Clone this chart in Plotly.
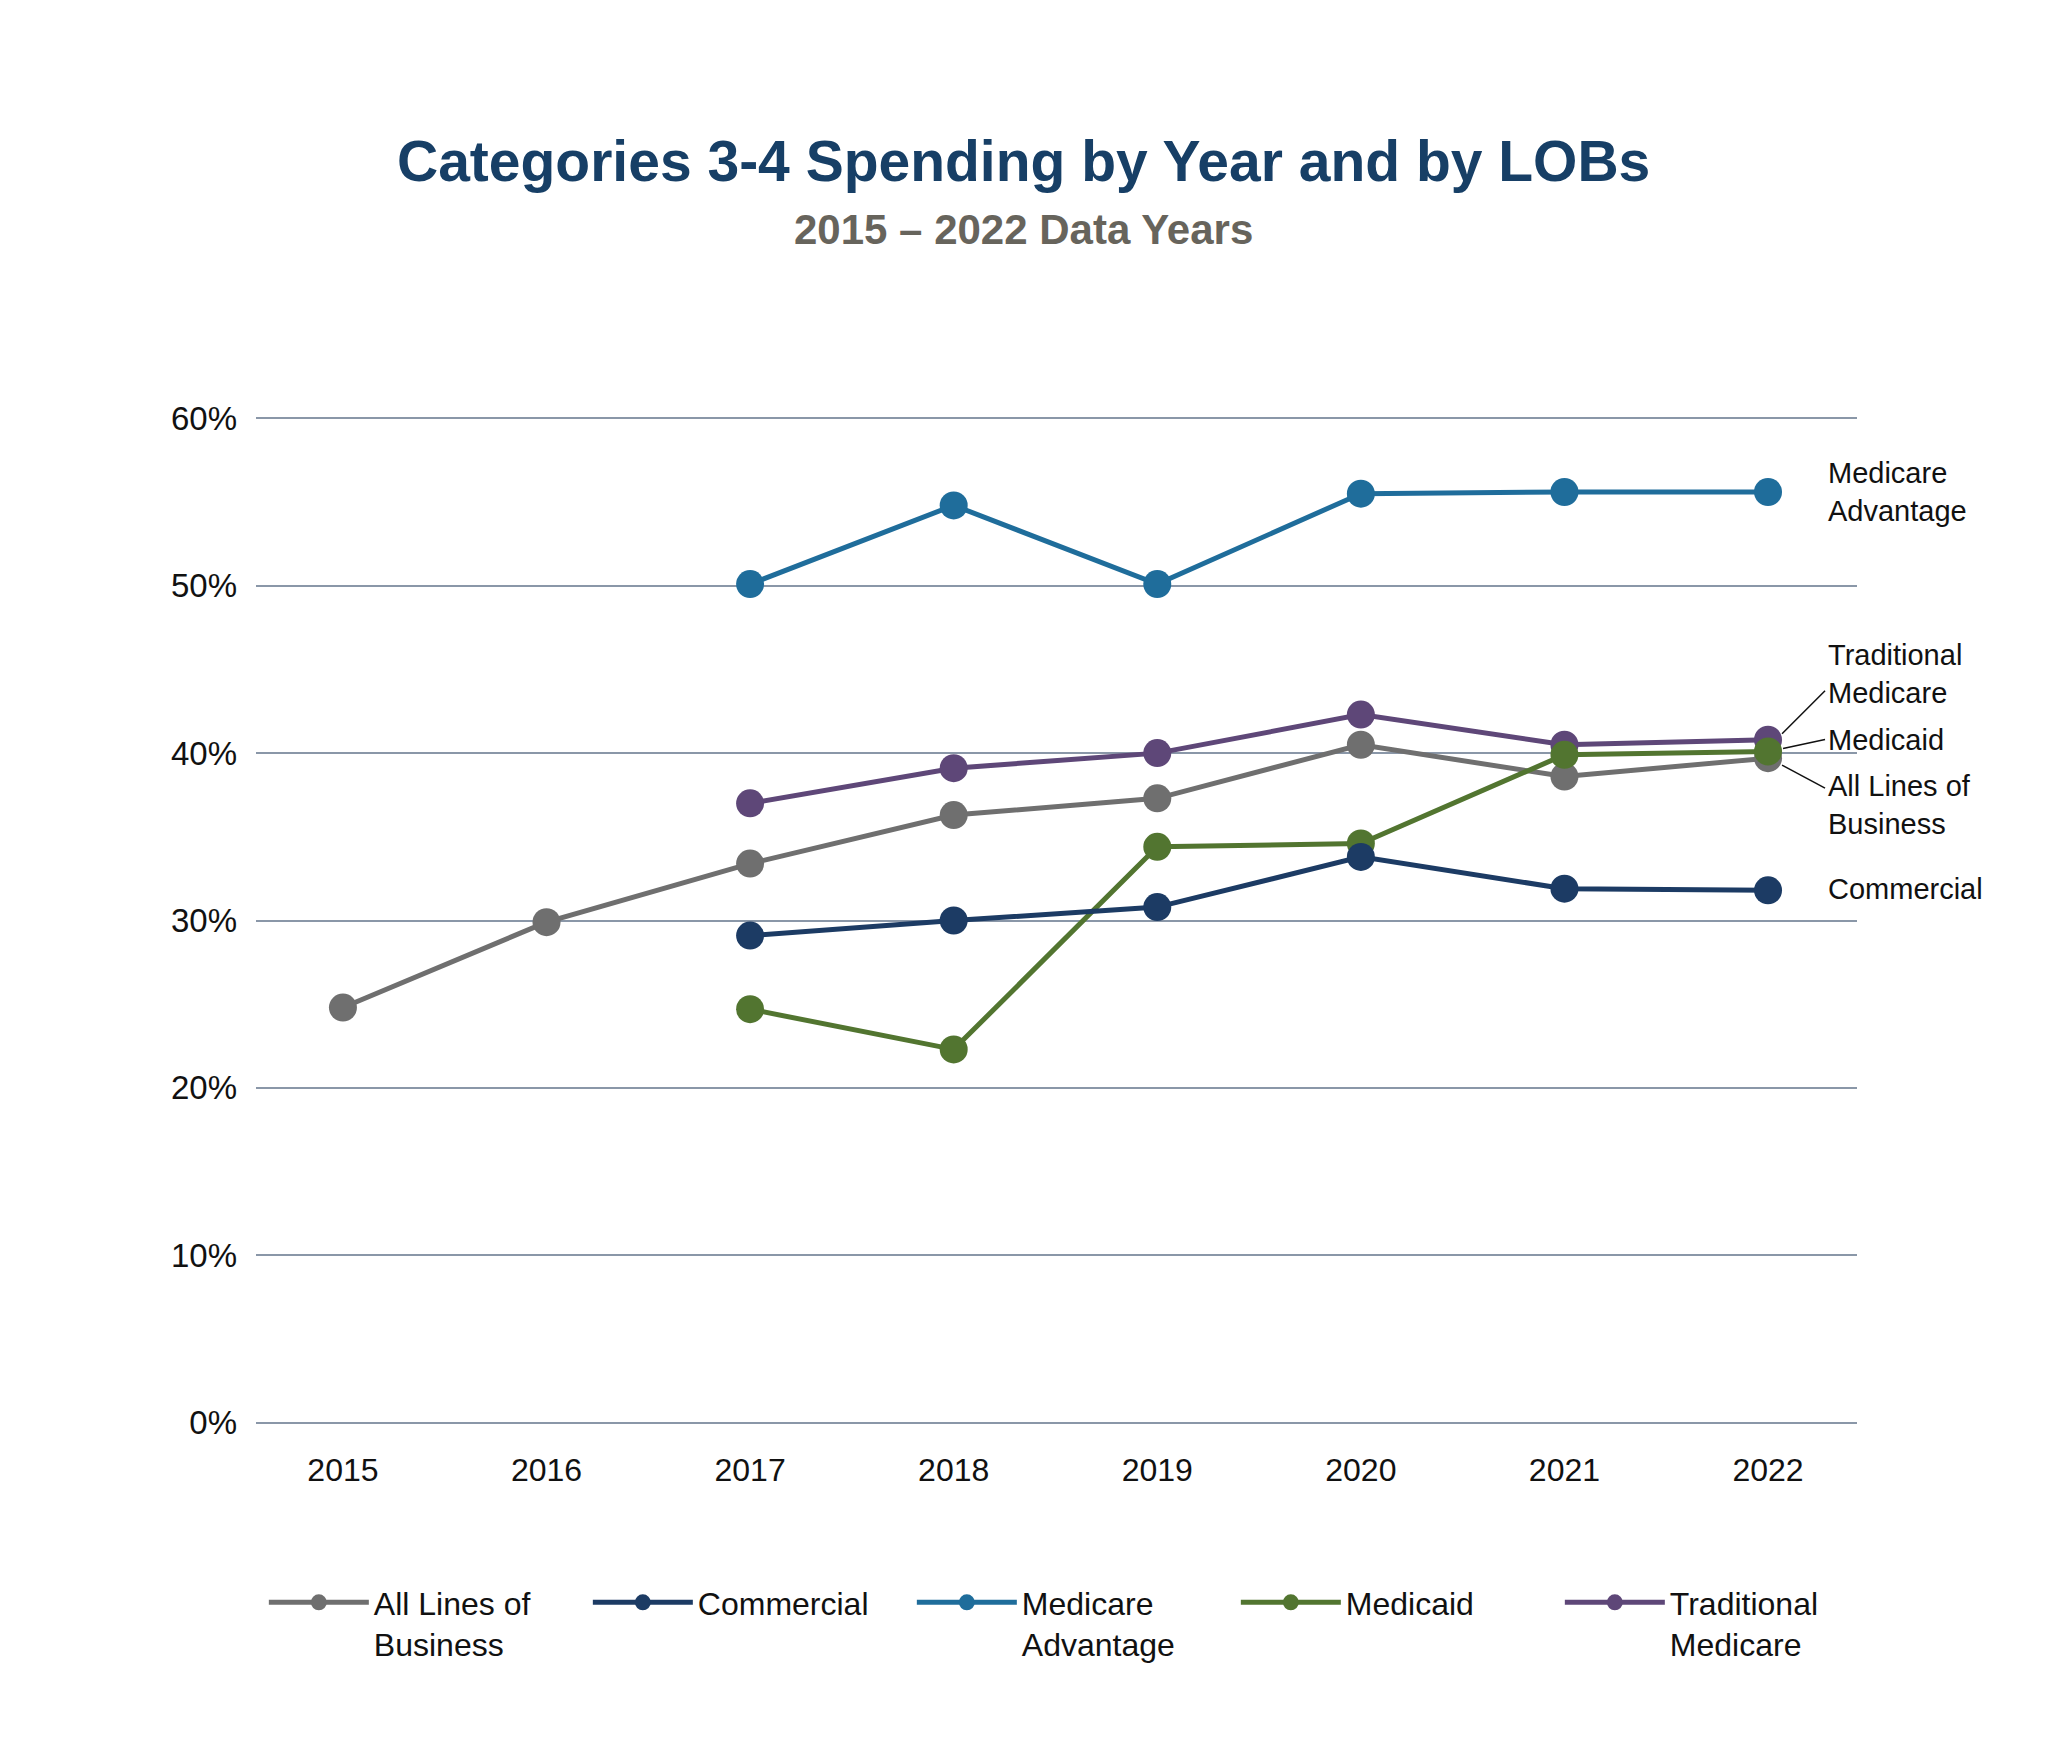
import plotly.graph_objects as go

years = [2015, 2016, 2017, 2018, 2019, 2020, 2021, 2022]
year_labels = ["2015", "2016", "2017", "2018", "2019", "2020", "2021", "2022"]

all_lines = [24.8, 29.9, 33.4, 36.3, 37.3, 40.5, 38.6, 39.7]
commercial = [None, None, 29.1, 30.0, 30.8, 33.8, 31.9, 31.8]
medicare_adv = [None, None, 50.1, 54.8, 50.1, 55.5, 55.6, 55.6]
medicaid = [None, None, 24.7, 22.3, 34.4, 34.6, 39.9, 40.1]
trad_medicare = [None, None, 37.0, 39.1, 40.0, 42.3, 40.5, 40.8]

# (legend name, values, colour, legend rank); listed in drawing order (back to front)
series = [
    ("All Lines of<br>Business", all_lines, "#6f6f6f", 1),
    ("Traditional<br>Medicare", trad_medicare, "#5e4778", 5),
    ("Medicaid", medicaid, "#527530", 4),
    ("Commercial", commercial, "#1c3b64", 2),
    ("Medicare<br>Advantage", medicare_adv, "#1f6d9b", 3),
]

y_ticks = [0, 10, 20, 30, 40, 50, 60]
y_tick_labels = ["0%", "10%", "20%", "30%", "40%", "50%", "60%"]

FONT = "Liberation Sans, Arial, Helvetica, sans-serif"

fig = go.Figure()
for name, vals, col, rank in series:
    fig.add_trace(go.Scatter(
        x=years, y=vals, name=name, mode="lines+markers",
        line=dict(color=col, width=5),
        marker=dict(color=col, size=28),
        connectgaps=False, legendrank=rank,
    ))

annotations = [
    dict(text="<b>Categories 3-4 Spending by Year and by LOBs</b>", xref="paper", yref="paper",
         x=0.4797, y=1.2516, xanchor="center", yanchor="middle", showarrow=False,
         font=dict(family=FONT, size=57, color="#173f66")),
    dict(text="<b>2015 – 2022 Data Years</b>", xref="paper", yref="paper",
         x=0.4797, y=1.1831, xanchor="center", yanchor="middle", showarrow=False,
         font=dict(family=FONT, size=42, color="#67645c")),
]

end_labels = [
    ("Medicare<br>Advantage", 55.6),
    ("Traditional<br>Medicare", 44.7),
    ("Medicaid", 40.8),
    ("All Lines of<br>Business", 36.9),
    ("Commercial", 31.9),
]
for txt, yv in end_labels:
    annotations.append(dict(text=txt, xref="paper", yref="y", x=0.9806, y=yv,
                            xanchor="left", yanchor="middle", align="left", showarrow=False,
                            font=dict(family=FONT, size=29, color="#111111")))

shapes = []
leaders = [
    (trad_medicare[-1], 14, 6, 57, 49),
    (medicaid[-1], 15, 3, 57, 12),
    (all_lines[-1], 14, -7, 57, -30),
]
for yv, x0, y0, x1, y1 in leaders:
    shapes.append(dict(type="line", xref="x", yref="y", xsizemode="pixel", ysizemode="pixel",
                       xanchor=years[-1], yanchor=yv, x0=x0, y0=y0, x1=x1, y1=y1,
                       line=dict(color="#111111", width=1.5)))

fig.update_layout(
    width=2048, height=1748,
    margin=dict(l=256, r=2048 - 1857, t=415, b=322, pad=0, autoexpand=False),
    paper_bgcolor="white", plot_bgcolor="white",
    font=dict(family=FONT, size=29, color="#111111"),
    showlegend=True,
    legend=dict(orientation="h", x=-0.0001, xanchor="left", y=-0.1474, yanchor="top",
                font=dict(family=FONT, size=32, color="#111111"),
                entrywidth=201, entrywidthmode="pixels", itemwidth=100, indentation=8,
                traceorder="normal", valign="top"),
    annotations=annotations,
    shapes=shapes,
    xaxis=dict(range=[2014.573, 2022.437], tickmode="array", tickvals=years, ticktext=year_labels,
               showgrid=False, zeroline=False, showline=False, ticks="", automargin=False,
               tickfont=dict(family=FONT, size=32, color="#111111"), ticklabelstandoff=22),
    yaxis=dict(range=[-0.2, 60.2], tickmode="array", tickvals=y_ticks, ticktext=y_tick_labels,
               showgrid=True, gridcolor="#8a97a8", gridwidth=2, zeroline=False, showline=False,
               ticks="", automargin=False,
               tickfont=dict(family=FONT, size=33, color="#111111"), ticklabelstandoff=18),
)

fig.write_html("out.html")
